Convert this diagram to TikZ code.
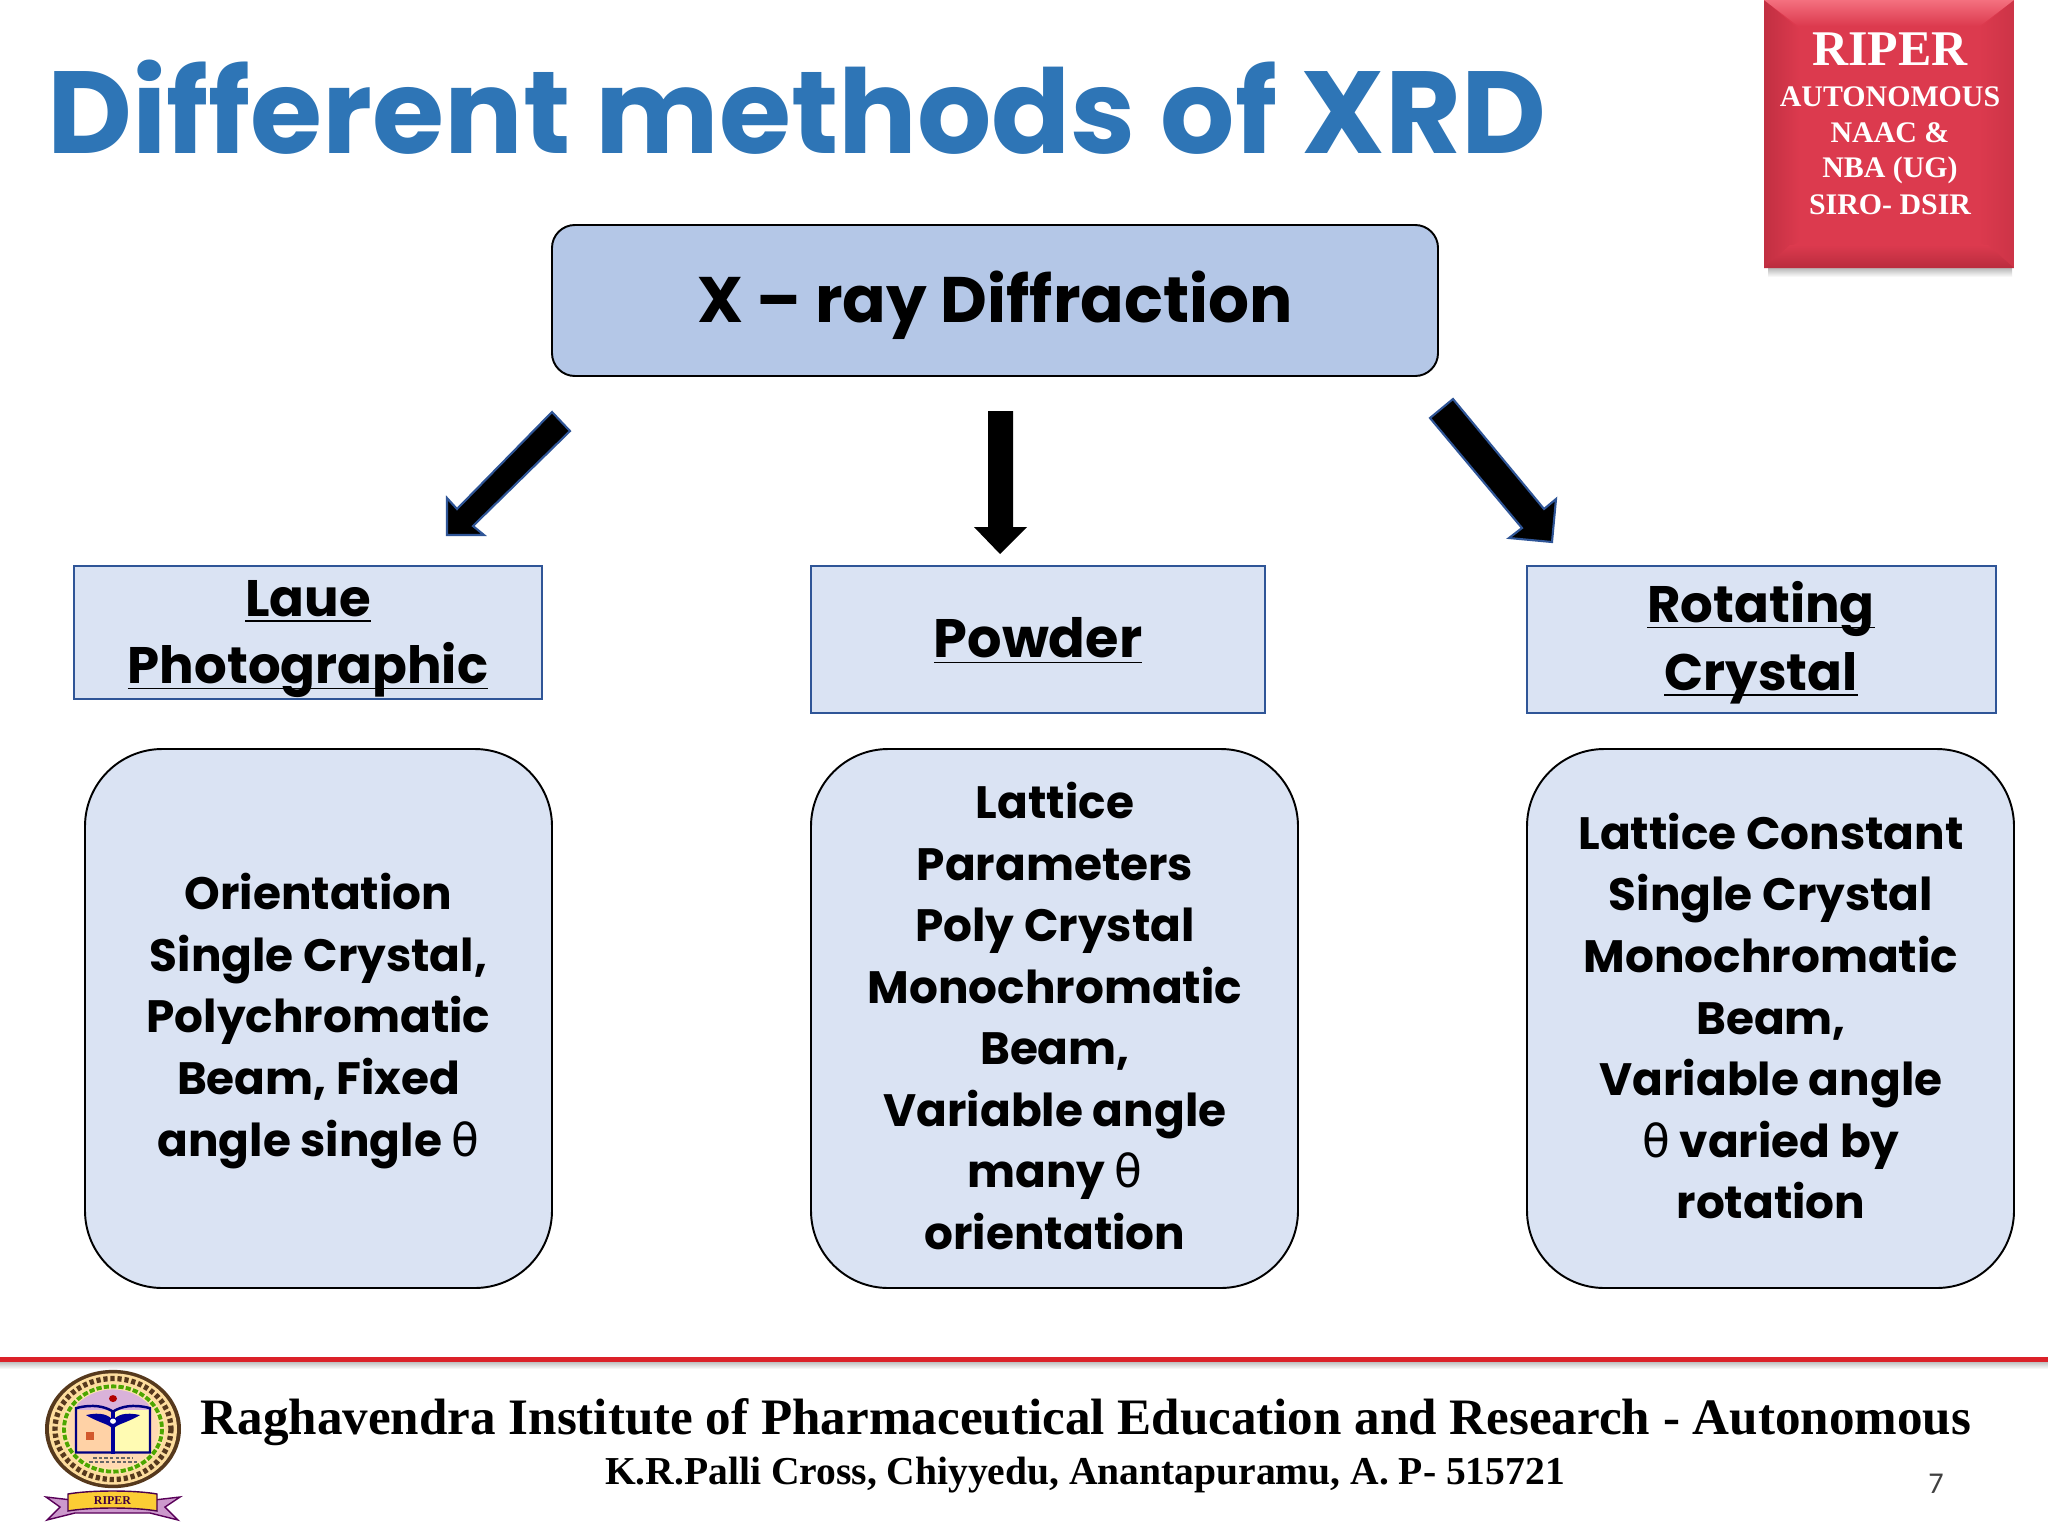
\documentclass[tikz,border=0pt]{standalone}
\usepackage{fontspec}
\setmainfont{Poppins}[BoldFont=Poppins Bold]
\newfontfamily\serifbf{Liberation Serif}[BoldFont=Liberation Serif Bold]
\newfontfamily\thetaf{DejaVu Sans}
\newfontfamily\pagef{Carlito}
\definecolor{titleblue}{HTML}{2E75B6}
\definecolor{topfill}{HTML}{B4C7E7}
\definecolor{lightfill}{HTML}{DAE3F3}
\definecolor{edgeblue}{HTML}{2F5597}
\definecolor{badge}{HTML}{DC3A4E}
\definecolor{badgelight}{HTML}{F4707F}
\definecolor{badgedark}{HTML}{B92C3E}
\definecolor{rulered}{HTML}{DB2129}
\newcommand{\ulh}[1]{\underline{\smash{#1}}}
\newcommand{\thet}{{\thetaf\mdseries θ}}
\newcommand{\pxu}{*0.01cm}
\tikzset{
  x=0.01cm,y=-0.01cm,
  topbox/.style={draw=black,line width=0.55pt,fill=topfill,rounded corners=6.5pt,inner sep=0,minimum width=886\pxu,minimum height=151\pxu},
  toptext/.style={inner sep=0,font=\bfseries\fontsize{18.3}{22}\selectfont},
  headbox/.style={draw=edgeblue,line width=0.6pt,fill=lightfill,inner sep=0},
  headtext/.style={inner sep=0,align=center,font=\bfseries\fontsize{14.6}{19.2}\selectfont},
  infobox/.style={draw=black,line width=0.55pt,fill=lightfill,rounded corners=22pt,inner sep=0},
  infotext/.style={inner sep=0,align=center,font=\bfseries\fontsize{12.9}{17.5}\selectfont},
  blockarrow/.style={fill=black,draw=edgeblue,line width=0.6pt,line join=miter},
  foot/.style={inner sep=0},
  badgetext/.style={inner sep=0,text=white},
  badgesmall/.style={badgetext,font=\serifbf\bfseries\fontsize{8.5}{10}\selectfont},
}
\begin{document}
\begin{tikzpicture}
\useasboundingbox (0,0) rectangle (2048,1536);
\fill[white] (0,0) rectangle (2048,1536);
% title
\node[inner sep=0,text=titleblue,font=\bfseries\fontsize{33.2}{38}\selectfont] (title) at (797,107) {Different methods of XRD};
% badge
\shade[top color=gray!55,bottom color=white] (1768,268) rectangle (2012,277);
\fill[badge] (1764,0) rectangle (2014,268);
\shade[left color=badgedark!75!badge,right color=badge] (1764,0) -- (1800,30) -- (1800,240) -- (1764,268) -- cycle;
\shade[left color=badge,right color=badgedark!45!badge] (2014,0) -- (1978,30) -- (1978,240) -- (2014,268) -- cycle;
\shade[top color=badgelight,bottom color=badge] (1764,0) -- (2014,0) -- (1980,26) -- (1798,26) -- cycle;
\shade[top color=badge,bottom color=badgedark] (1790,245) -- (1988,245) -- (2014,268) -- (1764,268) -- cycle;
\node[badgetext,font=\serifbf\bfseries\fontsize{14.2}{16}\selectfont] (b1) at (1890,49) {RIPER};
\node[badgesmall] (b2) at (1890,97) {AUTONOMOUS};
\node[badgesmall] (b3) at (1890,133) {NAAC \&};
\node[badgesmall] (b4) at (1890,170) {NBA (UG)};
\node[badgesmall] (b5) at (1890,205) {SIRO- DSIR};
% top
\node[topbox] (top) at (995,300.5) {};
\node[toptext] (topt) at (995,305) {X – ray Diffraction};
% headers
\node[headbox,minimum width=468\pxu,minimum height=133\pxu] (laue) at (308,632.5) {};
\node[headtext] (lauet) at (308,653.5) {\ulh{Laue}\\\ulh{Photographic}};
\node[headbox,minimum width=454\pxu,minimum height=147\pxu] (powder) at (1038,639.5) {};
\node[headtext,font=\bfseries\fontsize{15.4}{19.2}\selectfont] (powdert) at (1038,661) {\ulh{Powder}};
\node[headbox,minimum width=469\pxu,minimum height=147\pxu] (rot) at (1761.5,639.5) {};
\node[headtext] (rott) at (1761,660) {\ulh{Rotating}\\\ulh{Crystal}};
% info boxes
\node[infobox,minimum width=467\pxu,minimum height=539\pxu] (i1) at (318.5,1018.5) {};
\node[infotext] (i1t) at (318.5,1021) {Orientation\\Single Crystal,\\Polychromatic\\Beam, Fixed\\angle single \thet};
\node[infobox,minimum width=487\pxu,minimum height=539\pxu] (i2) at (1054.5,1018.5) {};
\node[infotext] (i2t) at (1055,1016) {Lattice\\Parameters\\Poly Crystal\\Monochromatic\\Beam,\\Variable angle\\many \thet\\orientation};
\node[infobox,minimum width=487\pxu,minimum height=539\pxu] (i3) at (1770.5,1018.5) {};
\node[infotext] (i3t) at (1771,1016) {Lattice Constant\\Single Crystal\\Monochromatic\\Beam,\\Variable angle\\\thet\ varied by\\rotation};
% block arrows
\draw[blockarrow] (552,412) -- (570,431) -- (473,526) -- (484,535) -- (447,535) -- (447,498) -- (457,509) -- cycle;
\fill[black] (988,411) -- (1013,411) -- (1013,527) -- (1027,527) -- (1000,554) -- (974,527) -- (988,527) -- cycle;
\draw[blockarrow] (1453,399) -- (1430,418) -- (1522,528) -- (1509,538) -- (1552,542) -- (1556,499) -- (1544,509) -- cycle;
% footer rule
\shade[top color=gray!55,bottom color=white] (0,1361) rectangle (2048,1369);
\fill[rulered] (0,1357) rectangle (2048,1362);
% logo
\begin{scope}[shift={(113,1429)},yscale=0.87]
\fill[black!55!brown] (0,0) circle[radius=68];
\fill[yellow!30!orange!35] (0,0) circle[radius=64];
\draw[black!55!brown,line width=1.5pt,dash pattern=on 1.2pt off 0.8pt] (0,0) circle[radius=58];
\fill[yellow!40!orange!30] (0,0) circle[radius=52];
\draw[green!50!black!70!yellow,line width=1.1pt,dash pattern=on 1.5pt off 0.6pt] (0,0) circle[radius=49];
\fill[orange!30!white] (0,0) circle[radius=45];
\fill[violet!30!white] (-36,-28) arc[start angle=218,end angle=322,radius=45.5] -- (36,-15) -- (-36,-15) -- cycle;
\fill[orange!35!white] (-36,-22) rectangle (0,26);
\fill[yellow!30!white] (0,-22) rectangle (36,26);
\draw[blue!50!black,line width=0.7pt] (-37,27) -- (-37,-24) .. controls (-20,-29) and (-8,-26) .. (0,-20) .. controls (8,-26) and (20,-29) .. (37,-24) -- (37,27) -- cycle;
\draw[blue!60!black,line width=1.1pt] (0,-20) -- (0,29);
\fill[blue!60!black] (-27,-16) .. controls (-12,-20) and (-4,-16) .. (0,-10) .. controls (4,-16) and (12,-20) .. (27,-16) .. controls (12,-6) and (4,-6) .. (0,0) .. controls (-4,-6) and (-12,-6) .. (-27,-16) -- cycle;
\fill[white] (0,-9) circle[radius=3];
\fill[red!70!black] (0,-35) circle[radius=4];
\fill[brown!70!red] (-27,3) rectangle (-19,13);
\draw[black!60,line width=0.6pt,dash pattern=on 1pt off 0.6pt] (-24,38) -- (24,38);
\draw[black!60,line width=0.6pt,dash pattern=on 1pt off 0.6pt] (-20,33) -- (20,33);
\end{scope}
\fill[violet!40!white,draw=violet!70!black,line width=0.4pt] (46,1497) -- (72,1500) -- (154,1500) -- (180,1497) -- (165,1507) -- (178,1520) -- (150,1513) -- (75,1513) -- (47,1520) -- (60,1507) -- cycle;
\fill[yellow!55!orange!80,draw=violet!60!black,line width=0.4pt] (68,1494) .. controls (90,1490) and (135,1490) .. (157,1494) -- (157,1511) .. controls (135,1507) and (90,1507) .. (68,1511) -- cycle;
\node[inner sep=0,text=violet!50!black,font=\serifbf\bfseries\fontsize{3.4}{4}\selectfont] (ribbon) at (112.5,1501) {RIPER};
% footer text
\node[foot,anchor=base west,font=\serifbf\bfseries\fontsize{14.53}{16}\selectfont] (f1) at (200,1434) {Raghavendra Institute of Pharmaceutical Education and Research - Autonomous};
\node[foot,anchor=base,font=\serifbf\bfseries\fontsize{11.25}{13}\selectfont] (f2) at (1085,1484) {K.R.Palli Cross, Chiyyedu, Anantapuramu, A. P- 515721};
\node[inner sep=0,font=\pagef\fontsize{8.6}{10}\selectfont,text=black!75] (pg) at (1936,1484) {7};
\end{tikzpicture}
\end{document}
